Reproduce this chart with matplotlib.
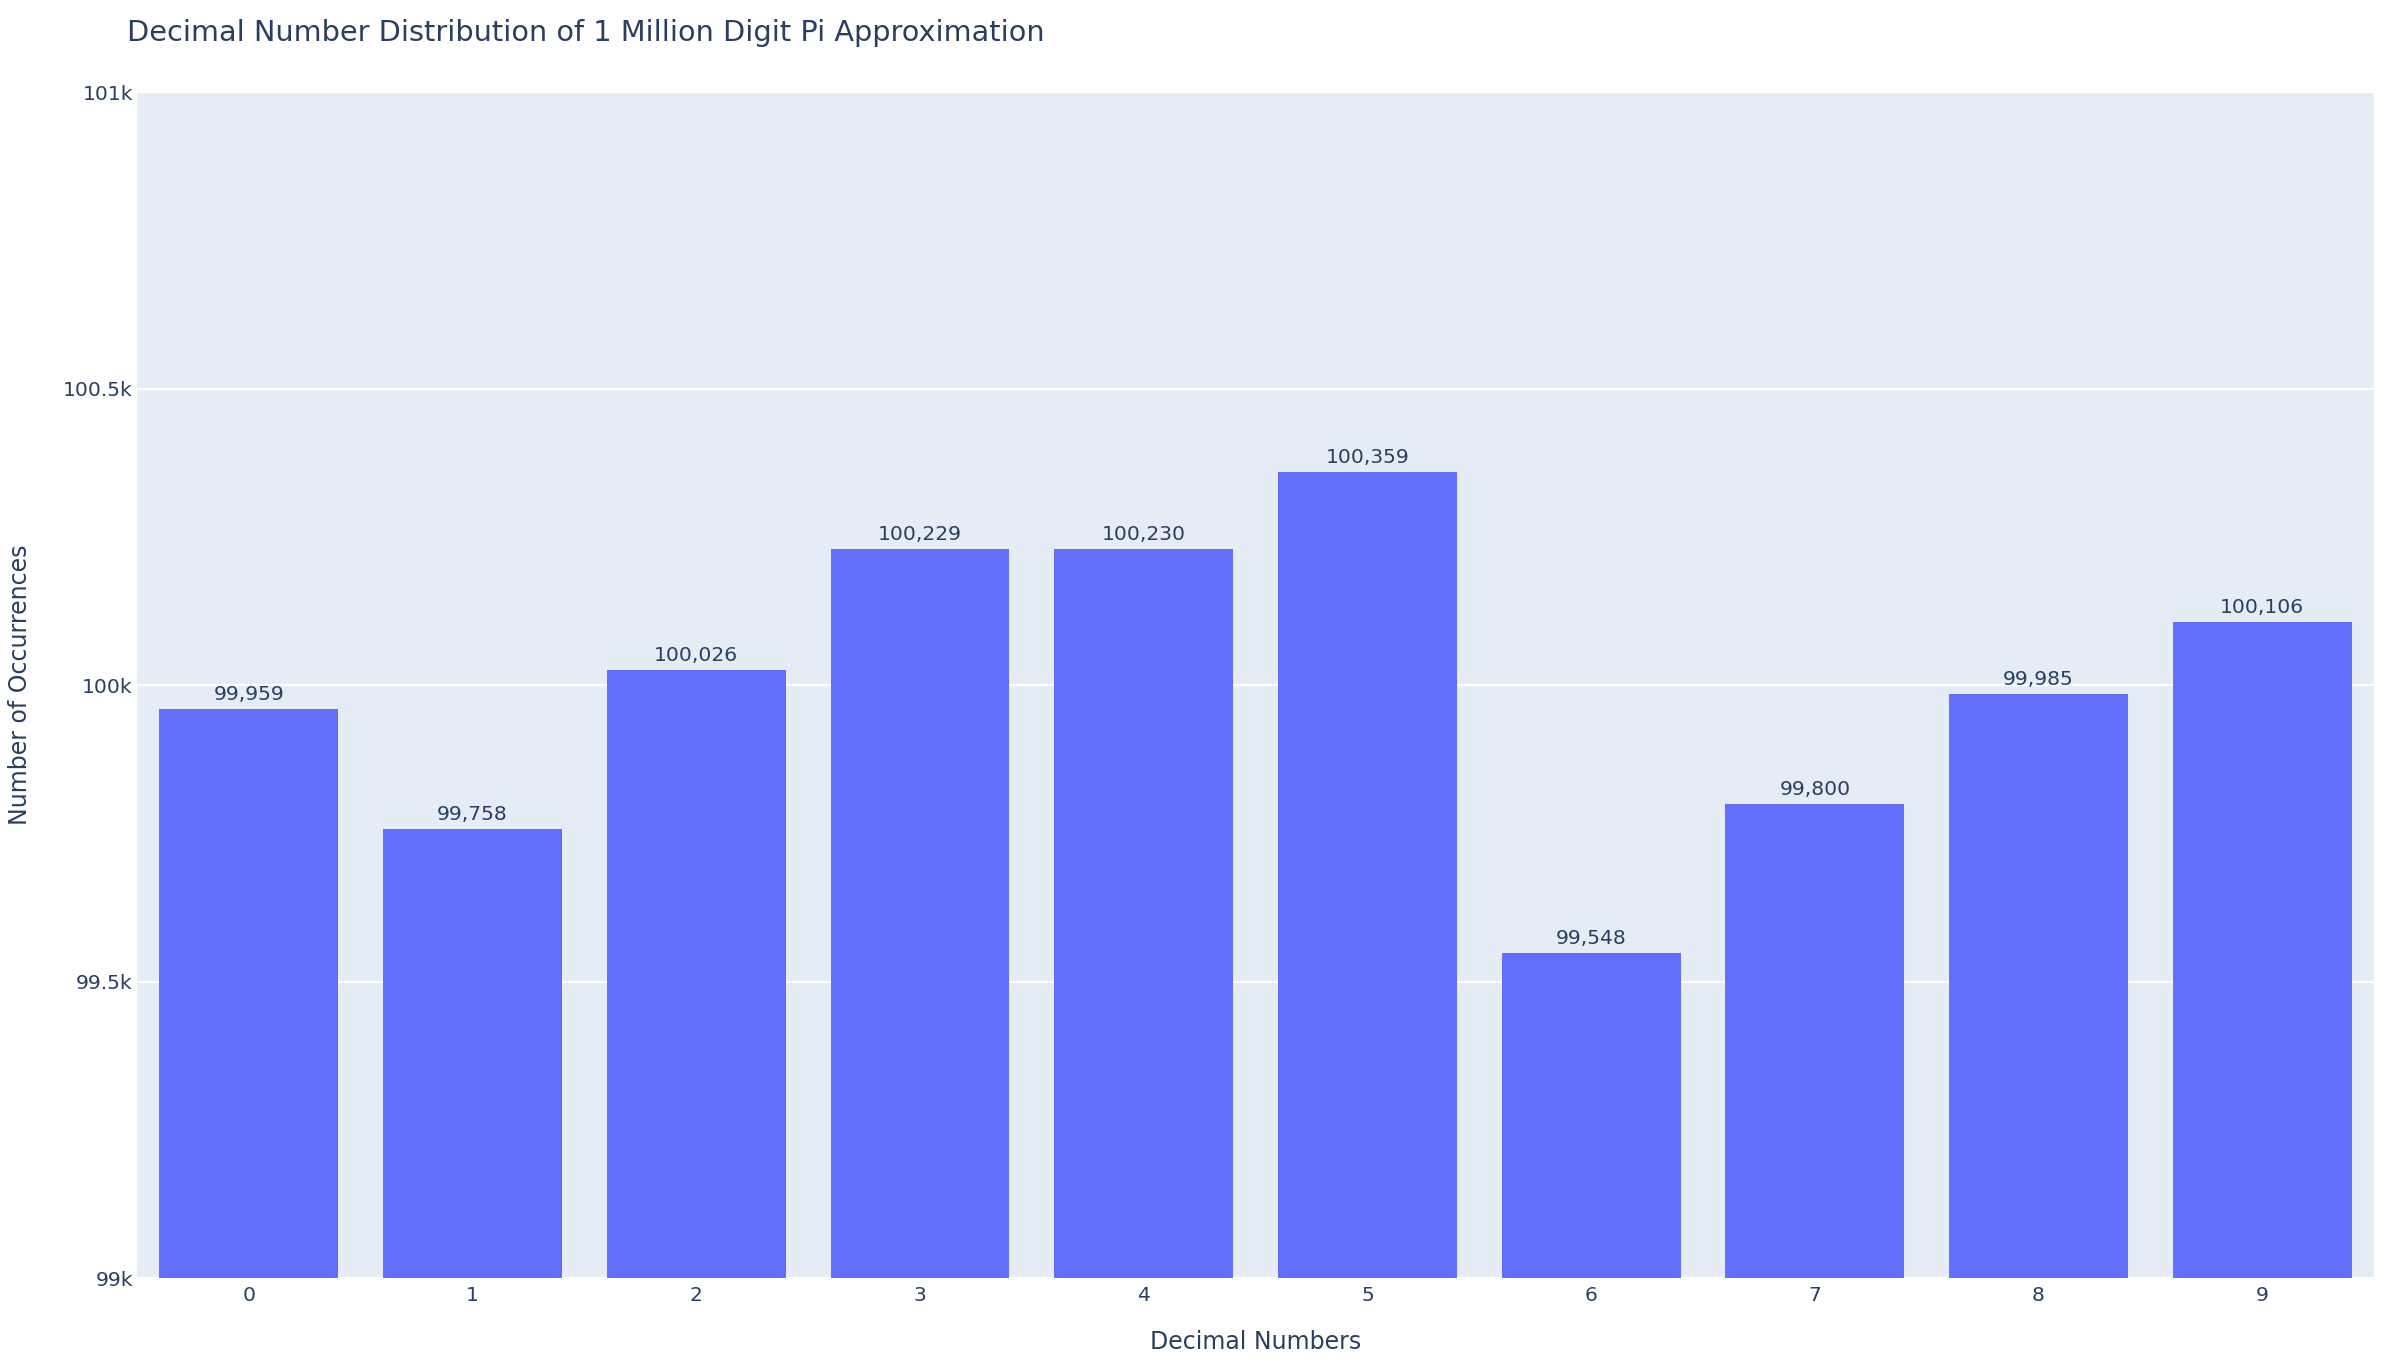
import matplotlib
matplotlib.use("Agg")
import matplotlib.pyplot as plt
from matplotlib.ticker import FixedLocator

digits = ["0", "1", "2", "3", "4", "5", "6", "7", "8", "9"]
counts = [99959, 99758, 100026, 100229, 100230, 100359, 99548, 99800, 99985, 100106]
ytick_vals = [99000, 99500, 100000, 100500, 101000]
ytick_labels = ["99k", "99.5k", "100k", "100.5k", "101k"]

plt.rcParams['font.family'] = ['DejaVu Sans']
txt = "#2a3f5f"

fig = plt.figure(figsize=(12, 6.825), dpi=200)
left, bottom, width, height = 0.0571, 0.0637, 0.9321, 0.8689
ax = fig.add_axes([left, bottom, width, height])
ax.set_facecolor("#e5ecf6")
x = list(range(len(digits)))
ax.bar(x, counts, width=0.8, color="#636efa", zorder=3)
ax.set_xlim(-0.5, 9.5)
ax.set_ylim(99000, 101000)
ax.yaxis.set_major_locator(FixedLocator(ytick_vals))
ax.set_yticklabels(ytick_labels)
ax.set_xticks(x)
ax.set_xticklabels(digits)
ax.grid(axis="y", color="white", linewidth=0.8, zorder=0)
for s in ax.spines.values():
    s.set_visible(False)
ax.tick_params(axis="y", length=0, labelsize=7.3, colors=txt, pad=1.5)
ax.tick_params(axis="x", length=0, labelsize=7.3, colors=txt, pad=2.8)
for xi, c in zip(x, counts):
    ax.annotate(f"{c:,}", (xi, c), xytext=(0, 1.8), textcoords="offset points",
                ha="center", va="bottom", fontsize=7.3, color=txt, zorder=4)
fig.text(left + width / 2, 0.017, "Decimal Numbers", fontsize=8.5, color=txt,
         ha="center", va="center")
fig.text(0.0085, bottom + height / 2, "Number of Occurrences", fontsize=8.5, color=txt,
         ha="center", va="center", rotation=90)
fig.text(0.053, 0.976, "Decimal Number Distribution of 1 Million Digit Pi Approximation",
         fontsize=10.35, color=txt, ha="left", va="center")
fig.savefig("out.png", dpi=200, facecolor="white")
